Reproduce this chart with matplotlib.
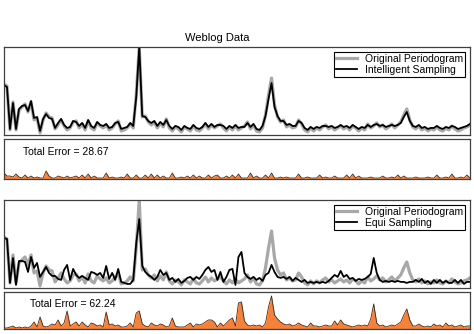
import numpy as np
import matplotlib
matplotlib.use("Agg")
import matplotlib.pyplot as plt

plt.rcParams['font.family'] = ['Liberation Sans', 'DejaVu Sans']

#%% Data (periodogram power)
original = [51, 49, 5, 33, 5, 25, 28, 31, 23, 33, 15, 17, 2, 15, 22, 18, 17, 6, 10, 15,
            9, 5, 7, 13, 14, 7, 11, 5, 14, 7, 5, 12, 9, 7, 10, 5, 7, 11, 14, 4,
            5, 7, 11, 7, 40, 88, 18, 19, 13, 10, 13, 7, 12, 8, 16, 7, 4, 8, 6, 3,
            8, 6, 4, 9, 5, 4, 7, 11, 6, 10, 7, 9, 11, 7, 4, 8, 5, 9, 5, 7,
            9, 13, 6, 10, 4, 3, 7, 20, 40, 57, 30, 18, 13, 15, 8, 10, 7, 8, 15, 11,
            5, 3, 7, 4, 7, 5, 8, 10, 6, 8, 5, 7, 9, 6, 8, 5, 9, 7, 4, 7,
            5, 11, 7, 9, 12, 8, 10, 6, 8, 11, 7, 10, 13, 20, 26, 15, 8, 6, 9, 5,
            7, 4, 6, 5, 8, 5, 4, 7, 5, 9, 6, 4, 5, 7, 8, 10]

intelligent = [50, 48, 6, 32, 6, 26, 29, 30, 24, 34, 17, 18, 4, 16, 21, 17, 16, 7, 12, 16,
               10, 7, 8, 14, 13, 9, 12, 7, 15, 9, 7, 13, 10, 9, 11, 7, 8, 12, 13, 6,
               7, 8, 12, 9, 38, 88, 19, 18, 14, 12, 14, 9, 13, 10, 15, 9, 6, 9, 8, 5,
               9, 7, 6, 10, 7, 6, 8, 12, 8, 11, 8, 10, 10, 9, 6, 9, 7, 10, 7, 8,
               8, 12, 8, 11, 6, 5, 9, 19, 36, 52, 28, 19, 14, 14, 10, 11, 9, 9, 14, 12,
               7, 5, 8, 6, 8, 7, 9, 9, 8, 9, 7, 8, 10, 8, 9, 7, 10, 8, 6, 8,
               7, 10, 8, 10, 11, 9, 10, 8, 9, 10, 9, 10, 12, 18, 23, 14, 9, 8, 10, 7,
               8, 6, 7, 7, 9, 7, 6, 8, 7, 9, 8, 6, 7, 8, 9, 11]

equi = [50, 49, 5, 30, 3, 27, 27, 26, 16, 31, 20, 25, 11, 16, 21, 15, 12, 12, 9, 8,
        18, 23, 8, 19, 13, 10, 12, 10, 8, 16, 15, 13, 15, 10, 22, 9, 15, 8, 19, 6,
        5, 4, 4, 8, 45, 69, 22, 16, 13, 11, 8, 11, 18, 13, 15, 8, 10, 6, 9, 5,
        7, 10, 11, 8, 11, 9, 13, 18, 21, 16, 18, 8, 16, 6, 11, 18, 19, 3, 31, 36,
        15, 11, 9, 11, 8, 10, 7, 13, 15, 23, 16, 11, 10, 11, 9, 11, 7, 10, 8, 6,
        8, 5, 6, 5, 6, 5, 6, 5, 7, 10, 13, 11, 17, 11, 13, 9, 10, 7, 9, 8,
        9, 11, 14, 30, 15, 8, 6, 7, 6, 7, 6, 7, 6, 6, 5, 6, 6, 8, 6, 9,
        5, 7, 4, 8, 5, 8, 5, 7, 5, 5, 8, 5, 8, 4, 6, 6]

# pointwise error curves shown under each comparison
err_intelligent = [6, 3, 3, 2, 5, 2, 1, 4, 1, 3, 1, 2, 1, 1, 8, 3, 1, 1, 3, 2,
                   1, 3, 1, 2, 3, 1, 4, 1, 5, 1, 3, 1, 1, 1, 6, 1, 2, 1, 1, 2,
                   1, 5, 1, 1, 4, 1, 1, 4, 1, 5, 1, 4, 1, 3, 1, 1, 6, 1, 1, 2,
                   1, 3, 1, 4, 1, 3, 1, 1, 4, 1, 3, 4, 1, 1, 3, 1, 4, 1, 5, 1,
                   1, 1, 6, 1, 3, 1, 1, 4, 1, 6, 1, 1, 2, 1, 2, 1, 1, 1, 5, 1,
                   1, 2, 1, 1, 1, 4, 1, 2, 1, 1, 3, 1, 1, 1, 4, 1, 5, 1, 3, 1,
                   1, 1, 2, 1, 1, 1, 3, 1, 1, 2, 1, 4, 1, 3, 1, 1, 1, 2, 1, 1,
                   1, 2, 1, 1, 4, 1, 1, 2, 1, 5, 1, 1, 2, 1, 4, 1]

err_equi = [1, 1, 2, 3, 1, 2, 1, 2, 1, 3, 7, 2, 12, 3, 2, 3, 5, 4, 9, 3,
            6, 18, 3, 5, 7, 3, 7, 4, 2, 6, 5, 3, 4, 2, 17, 4, 5, 3, 4, 2,
            2, 3, 6, 2, 16, 18, 5, 3, 2, 6, 4, 3, 5, 4, 2, 3, 11, 3, 2, 2,
            2, 4, 6, 2, 5, 4, 5, 7, 9, 9, 7, 2, 6, 3, 6, 9, 11, 3, 26, 27,
            8, 4, 3, 4, 3, 4, 2, 6, 22, 33, 14, 10, 7, 5, 4, 5, 3, 4, 6, 4,
            3, 2, 6, 3, 3, 2, 3, 4, 3, 3, 8, 4, 9, 5, 4, 3, 2, 3, 4, 3,
            4, 3, 10, 25, 6, 3, 4, 2, 3, 4, 3, 5, 7, 14, 20, 9, 3, 3, 5, 3,
            2, 3, 2, 5, 3, 4, 2, 6, 3, 4, 2, 3, 4, 2, 3, 3]

total_err = [28.67, 62.24]
labels = ["Intelligent Sampling", "Equi Sampling"]

#%% Plot
x = np.arange(len(original))
gray = "#a8a8a8"
orange = "#f5813a"
frame = "#404040"

fig = plt.figure(figsize=(4.74, 3.34), dpi=100)
boxes = [(0.0084, 0.596, 0.983, 0.263), (0.0084, 0.464, 0.983, 0.120),
         (0.0084, 0.138, 0.983, 0.263), (0.0084, 0.015, 0.983, 0.111)]
axs = [fig.add_axes(b) for b in boxes]

for k, (sampled, err) in enumerate([(intelligent, err_intelligent), (equi, err_equi)]):
    ax = axs[2 * k]
    ax.plot(x, original, color=gray, lw=2.3, label="Original Periodogram")
    ax.plot(x, sampled, color="black", lw=1.3, label=labels[k])
    ax.set_xlim(0, len(x) - 1)
    ax.set_ylim(0, 88)
    leg = ax.legend(loc="upper right", fontsize=7.5, fancybox=False, framealpha=1,
                    edgecolor="black", borderaxespad=0.45, handlelength=2.0,
                    borderpad=0.2, labelspacing=0.1, handletextpad=0.8)
    leg.get_frame().set_linewidth(0.8)

    eax = axs[2 * k + 1]
    eax.fill_between(x, err, color=orange, lw=0)
    eax.plot(x, err, color="#3a2a20", lw=0.6)
    eax.set_xlim(0, len(x) - 1)
    eax.set_ylim(0, 40 if k == 0 else 37)
    eax.text(0.04 if k == 0 else 0.055, 0.68, "Total Error = %.2f" % total_err[k],
             transform=eax.transAxes, fontsize=7.5, va="center")

for ax in axs:
    ax.set_xticks([])
    ax.set_yticks([])
    for s in ax.spines.values():
        s.set_color(frame)
        s.set_linewidth(0.9)

fig.text(217 / 474, 1 - 38 / 334, "Weblog Data", ha="center", va="center", fontsize=8)

fig.savefig("out.png", dpi=100)
